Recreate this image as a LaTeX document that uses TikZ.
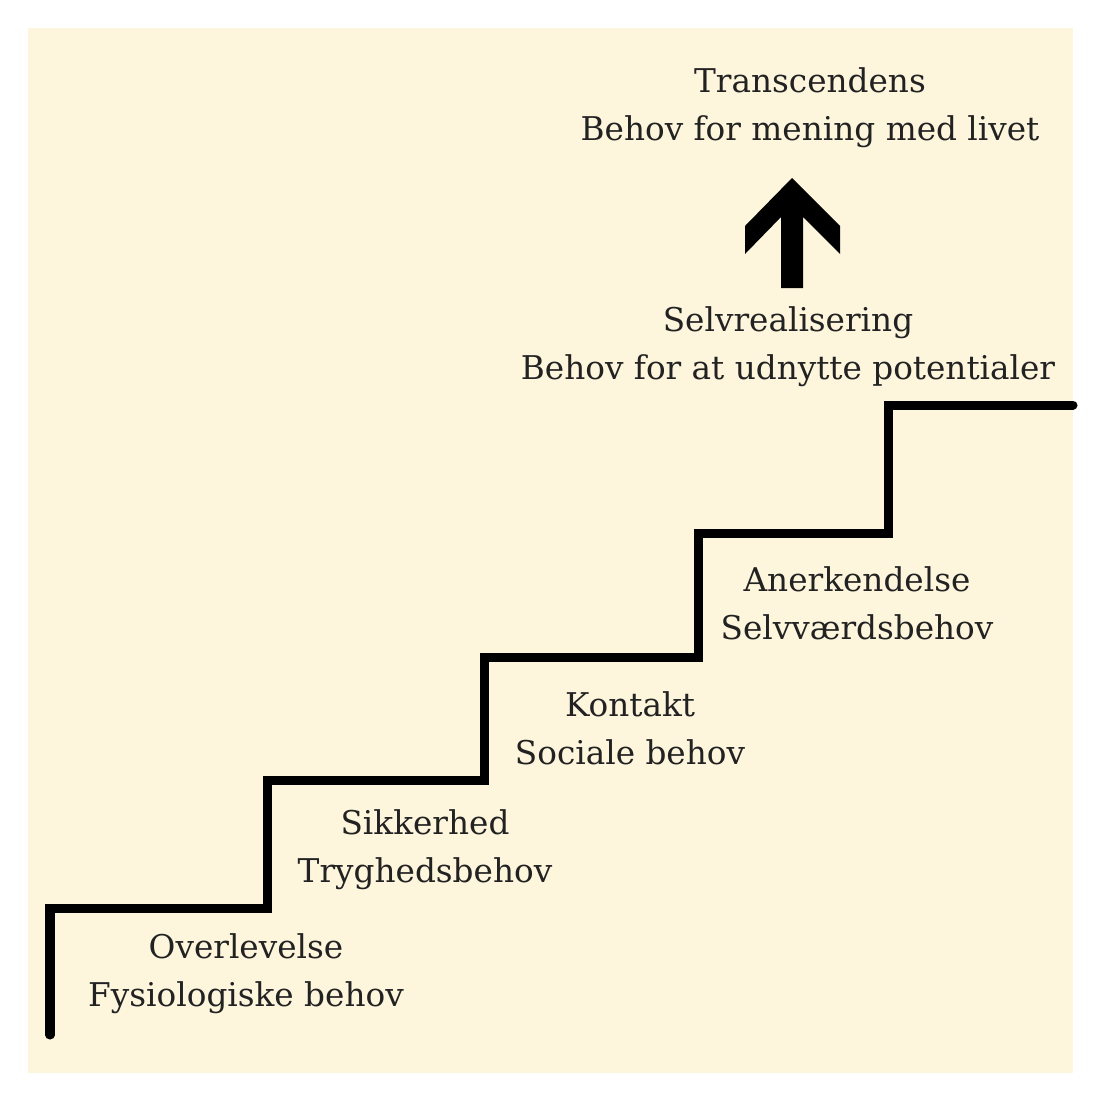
\documentclass[tikz,border=0pt]{standalone}
\usepackage{fontspec}
\setmainfont{DejaVu Serif}
\definecolor{cream}{HTML}{FDF5DC}
\definecolor{ink}{HTML}{222222}
\begin{document}
\begin{tikzpicture}[x=0.01cm,y=-0.01cm,
  lbl/.style={text=ink,align=center,font=\fontsize{9.3pt}{13.7pt}\selectfont,inner sep=0pt}]
\useasboundingbox (0,0) rectangle (1100,1100);
\fill[cream] (28,28) rectangle (1073,1073);
\coordinate (s0) at (50,1035);
\coordinate (s1) at (50,908);
\coordinate (s2) at (267,908);
\coordinate (s3) at (267,780);
\coordinate (s4) at (484,780);
\coordinate (s5) at (484,657);
\coordinate (s6) at (698,657);
\coordinate (s7) at (698,533);
\coordinate (s8) at (888,533);
\coordinate (s9) at (888,405);
\coordinate (s10) at (1073,405);
\draw[line width=0.09cm,line cap=round,line join=miter] (s0)--(s1)--(s2)--(s3)--(s4)--(s5)--(s6)--(s7)--(s8)--(s9)--(s10);
\fill[black] (792,178)--(840,226)--(840,254)--(803,217)--(803,288)--(781,288)--(781,217)--(745,254)--(745,226)--cycle;
\node[lbl] (t) at (810,108) {Transcendens\\Behov for mening med livet};
\node[lbl] (sr) at (788,347) {Selvrealisering\\Behov for at udnytte potentialer};
\node[lbl] (a) at (857,603) {Anerkendelse\\Selvværdsbehov};
\node[lbl] (k) at (630,728) {Kontakt\\Sociale behov};
\node[lbl] (si) at (425,850) {Sikkerhed\\Tryghedsbehov};
\node[lbl] (o) at (246,974) {Overlevelse\\Fysiologiske behov};
\end{tikzpicture}
\end{document}
